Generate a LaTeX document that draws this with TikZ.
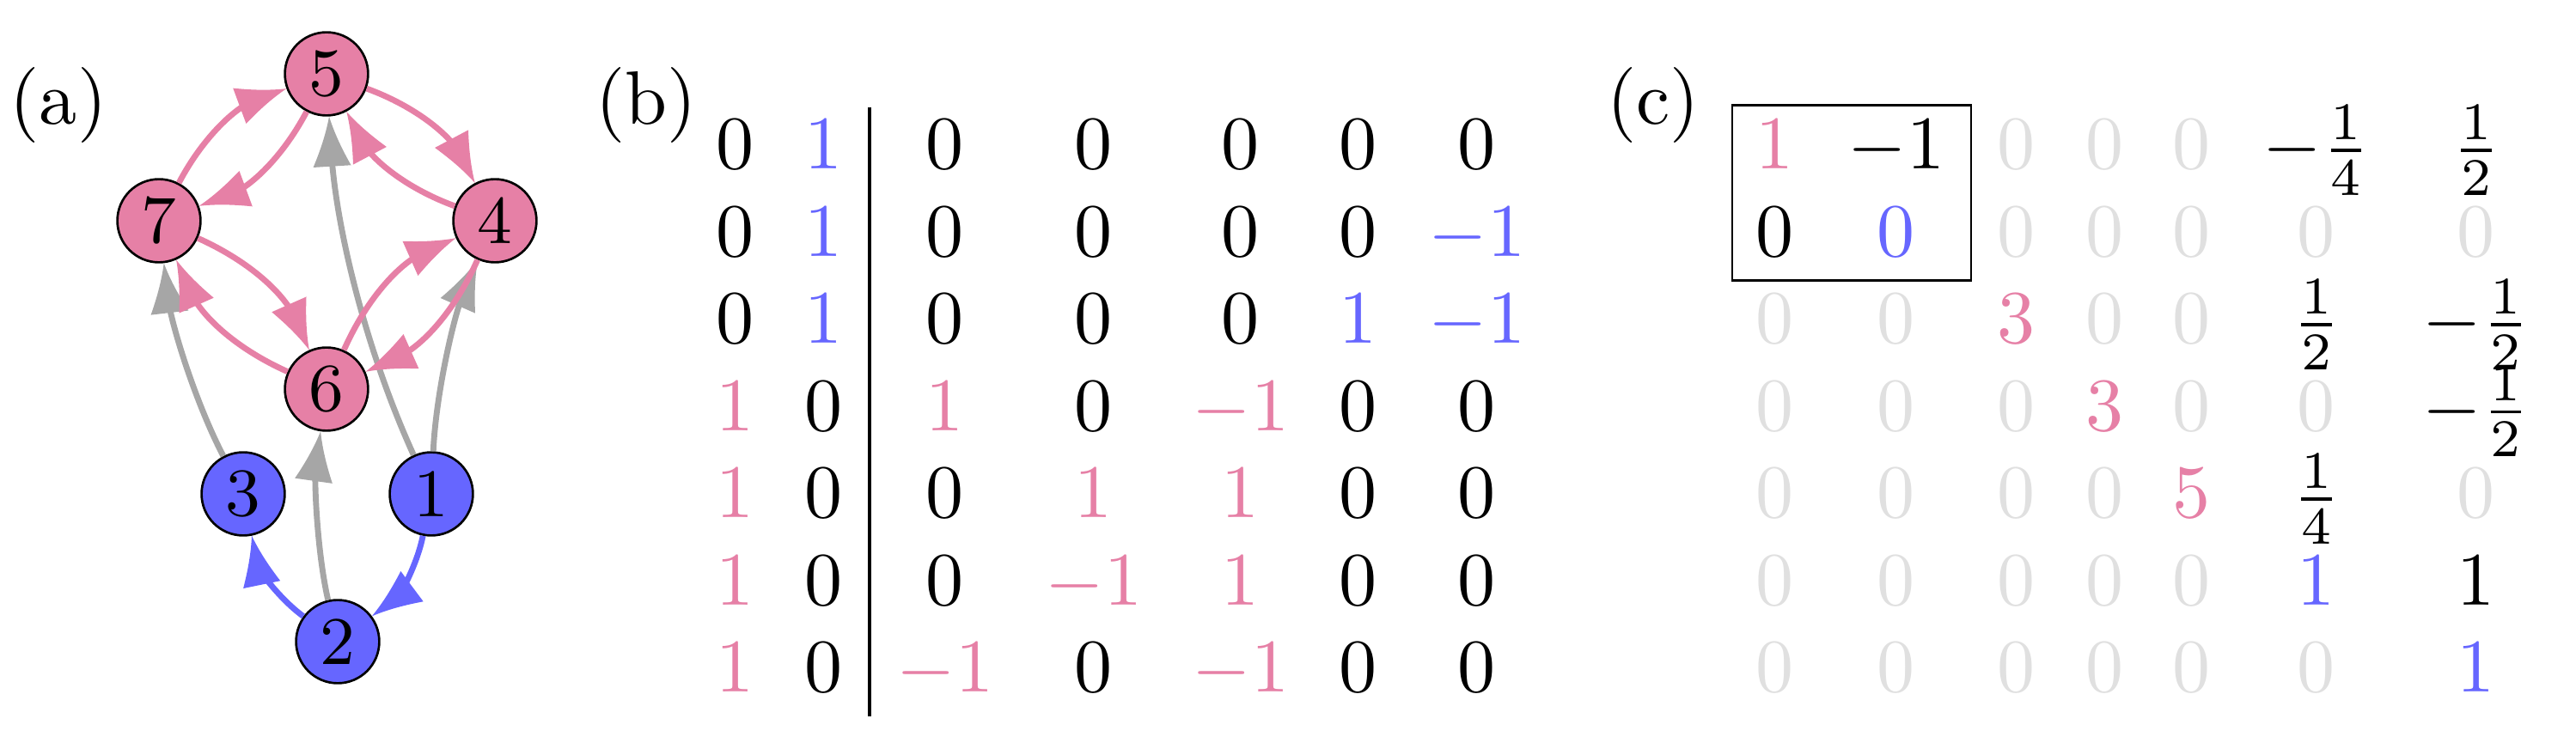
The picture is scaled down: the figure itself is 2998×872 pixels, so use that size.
\documentclass[tikz,border=0pt]{standalone}
\usetikzlibrary{calc,arrows.meta}
\definecolor{pk}{RGB}{230,128,166}
\definecolor{bl}{RGB}{102,102,255}
\definecolor{gr}{RGB}{166,166,166}
\definecolor{lg}{RGB}{224,224,224}
\pgfdeclarearrow{
  name = CTip,
  parameters = {\the\pgfarrowlength,\the\pgfarrowwidth},
  setup code = {
    \pgfarrowssettipend{0pt}
    \pgfarrowssetlineend{-0.7\pgfarrowlength}
    \pgfarrowssetvisualbackend{-\pgfarrowlength}
    \pgfarrowssetbackend{-\pgfarrowlength}
    \pgfarrowssavethe\pgfarrowlength
    \pgfarrowssavethe\pgfarrowwidth
  },
  drawing code = {
    \pgfpathmoveto{\pgfqpoint{0pt}{0pt}}
    \pgfpathcurveto{\pgfqpoint{-0.4\pgfarrowlength}{0.13\pgfarrowwidth}}{\pgfqpoint{-0.75\pgfarrowlength}{0.34\pgfarrowwidth}}{\pgfqpoint{-\pgfarrowlength}{0.5\pgfarrowwidth}}
    \pgfpathlineto{\pgfqpoint{-\pgfarrowlength}{-0.5\pgfarrowwidth}}
    \pgfpathcurveto{\pgfqpoint{-0.75\pgfarrowlength}{-0.34\pgfarrowwidth}}{\pgfqpoint{-0.4\pgfarrowlength}{-0.13\pgfarrowwidth}}{\pgfqpoint{0pt}{0pt}}
    \pgfpathclose
    \pgfusepathqfill
  },
  defaults = {length=6pt, width=4pt}
}
% style, from, to, end angle, control arm (fraction of centre distance)
\newcommand{\arcedge}[5]{%
  \draw[#1] (#2) .. controls ($(#2)!#5!#4:(#3)$) and ($(#3)!#5!-#4:(#2)$) .. (#3);
}
\begin{document}
\begin{tikzpicture}[x=0.1136pt,y=-0.1136pt,
  vx/.style={circle,draw=black,line width=0.3pt,minimum size=11pt,inner sep=0pt,font=\fontsize{9}{11}\selectfont},
  pv/.style={vx,fill=pk},
  bv/.style={vx,fill=bl},
  ed/.style={line width=0.78pt,-{CTip[length=6.6pt,width=5pt]}},
  pe/.style={ed,color=pk},
  ge/.style={ed,color=gr},
  be/.style={ed,color=bl},
  m/.style={anchor=base,inner sep=0pt,font=\fontsize{10}{12}\selectfont},
  P/.style={m,text=pk},
  B/.style={m,text=bl},
  L/.style={m,text=lg}
]
\useasboundingbox (0,0) rectangle (2998,872);

% panel labels
\node[m] (la) at (68,145) {(a)};
\node[m] (lb) at (752,145) {(b)};
\node[m] (lc) at (1924,145) {(c)};

% (a) graph
\node[pv] (n5) at (380,86) {5};
\node[pv] (n7) at (185,257) {7};
\node[pv] (n4) at (576,257) {4};
\node[pv] (n6) at (380,453) {6};
\node[bv] (n3) at (283,575) {3};
\node[bv] (n1) at (502,575) {1};
\node[bv] (n2) at (393,747) {2};

\arcedge{ge}{n3}{n7}{10.5}{0.36}
\arcedge{ge}{n2}{n6}{10.5}{0.36}
\arcedge{ge}{n1}{n5}{10.5}{0.36}
\arcedge{ge}{n1}{n4}{10.5}{0.36}
\arcedge{be}{n2}{n3}{21}{0.43}
\arcedge{be}{n1}{n2}{21}{0.43}
\arcedge{pe}{n7}{n5}{21}{0.43}
\arcedge{pe}{n5}{n7}{21}{0.43}
\arcedge{pe}{n5}{n4}{21}{0.43}
\arcedge{pe}{n4}{n5}{21}{0.43}
\arcedge{pe}{n7}{n6}{21}{0.43}
\arcedge{pe}{n6}{n7}{21}{0.43}
\arcedge{pe}{n6}{n4}{21}{0.43}
\arcedge{pe}{n4}{n6}{21}{0.43}

% (b) matrix
\coordinate (vt) at (1012,125);
\coordinate (vb) at (1012,834);
\draw[line width=0.4pt] (vt) -- (vb);

\node[m] (b11) at (856,197) {$0$};
\node[B] (b12) at (959,197) {$1$};
\node[m] (b13) at (1100,197) {$0$};
\node[m] (b14) at (1273,197) {$0$};
\node[m] (b15) at (1444,197) {$0$};
\node[m] (b16) at (1581,197) {$0$};
\node[m] (b17) at (1719,197) {$0$};

\node[m] (b21) at (856,298.5) {$0$};
\node[B] (b22) at (959,298.5) {$1$};
\node[m] (b23) at (1100,298.5) {$0$};
\node[m] (b24) at (1273,298.5) {$0$};
\node[m] (b25) at (1444,298.5) {$0$};
\node[m] (b26) at (1581,298.5) {$0$};
\node[B] (b27) at (1719,298.5) {$-1$};

\node[m] (b31) at (856,400) {$0$};
\node[B] (b32) at (959,400) {$1$};
\node[m] (b33) at (1100,400) {$0$};
\node[m] (b34) at (1273,400) {$0$};
\node[m] (b35) at (1444,400) {$0$};
\node[B] (b36) at (1581,400) {$1$};
\node[B] (b37) at (1719,400) {$-1$};

\node[P] (b41) at (856,501.5) {$1$};
\node[m] (b42) at (959,501.5) {$0$};
\node[P] (b43) at (1100,501.5) {$1$};
\node[m] (b44) at (1273,501.5) {$0$};
\node[P] (b45) at (1444,501.5) {$-1$};
\node[m] (b46) at (1581,501.5) {$0$};
\node[m] (b47) at (1719,501.5) {$0$};

\node[P] (b51) at (856,603) {$1$};
\node[m] (b52) at (959,603) {$0$};
\node[m] (b53) at (1100,603) {$0$};
\node[P] (b54) at (1273,603) {$1$};
\node[P] (b55) at (1444,603) {$1$};
\node[m] (b56) at (1581,603) {$0$};
\node[m] (b57) at (1719,603) {$0$};

\node[P] (b61) at (856,704.5) {$1$};
\node[m] (b62) at (959,704.5) {$0$};
\node[m] (b63) at (1100,704.5) {$0$};
\node[P] (b64) at (1273,704.5) {$-1$};
\node[P] (b65) at (1444,704.5) {$1$};
\node[m] (b66) at (1581,704.5) {$0$};
\node[m] (b67) at (1719,704.5) {$0$};

\node[P] (b71) at (856,806) {$1$};
\node[m] (b72) at (959,806) {$0$};
\node[P] (b73) at (1100,806) {$-1$};
\node[m] (b74) at (1273,806) {$0$};
\node[P] (b75) at (1444,806) {$-1$};
\node[m] (b76) at (1581,806) {$0$};
\node[m] (b77) at (1719,806) {$0$};

% (c) matrix
\coordinate (bx1) at (2016,123);
\coordinate (bx2) at (2294,327);
\draw[line width=0.34pt] (bx1) rectangle (bx2);

\node[P] (c11) at (2066,197) {$1$};
\node[m] (c12) at (2207,197) {$-1$};
\node[L] (c13) at (2347,197) {$0$};
\node[L] (c14) at (2450,197) {$0$};
\node[L] (c15) at (2551,197) {$0$};
\node[m] (c16) at (2696,197) {$-\frac{1}{4}$};
\node[m] (c17) at (2882,197) {$\frac{1}{2}$};

\node[m] (c21) at (2066,298.5) {$0$};
\node[B] (c22) at (2207,298.5) {$0$};
\node[L] (c23) at (2347,298.5) {$0$};
\node[L] (c24) at (2450,298.5) {$0$};
\node[L] (c25) at (2551,298.5) {$0$};
\node[L] (c26) at (2696,298.5) {$0$};
\node[L] (c27) at (2882,298.5) {$0$};

\node[L] (c31) at (2066,400) {$0$};
\node[L] (c32) at (2207,400) {$0$};
\node[P] (c33) at (2347,400) {$3$};
\node[L] (c34) at (2450,400) {$0$};
\node[L] (c35) at (2551,400) {$0$};
\node[m] (c36) at (2696,400) {$\frac{1}{2}$};
\node[m] (c37) at (2882,400) {$-\frac{1}{2}$};

\node[L] (c41) at (2066,501.5) {$0$};
\node[L] (c42) at (2207,501.5) {$0$};
\node[L] (c43) at (2347,501.5) {$0$};
\node[P] (c44) at (2450,501.5) {$3$};
\node[L] (c45) at (2551,501.5) {$0$};
\node[L] (c46) at (2696,501.5) {$0$};
\node[m] (c47) at (2882,501.5) {$-\frac{1}{2}$};

\node[L] (c51) at (2066,603) {$0$};
\node[L] (c52) at (2207,603) {$0$};
\node[L] (c53) at (2347,603) {$0$};
\node[L] (c54) at (2450,603) {$0$};
\node[P] (c55) at (2551,603) {$5$};
\node[m] (c56) at (2696,603) {$\frac{1}{4}$};
\node[L] (c57) at (2882,603) {$0$};

\node[L] (c61) at (2066,704.5) {$0$};
\node[L] (c62) at (2207,704.5) {$0$};
\node[L] (c63) at (2347,704.5) {$0$};
\node[L] (c64) at (2450,704.5) {$0$};
\node[L] (c65) at (2551,704.5) {$0$};
\node[B] (c66) at (2696,704.5) {$1$};
\node[m] (c67) at (2882,704.5) {$1$};

\node[L] (c71) at (2066,806) {$0$};
\node[L] (c72) at (2207,806) {$0$};
\node[L] (c73) at (2347,806) {$0$};
\node[L] (c74) at (2450,806) {$0$};
\node[L] (c75) at (2551,806) {$0$};
\node[L] (c76) at (2696,806) {$0$};
\node[B] (c77) at (2882,806) {$1$};
\end{tikzpicture}
\end{document}
